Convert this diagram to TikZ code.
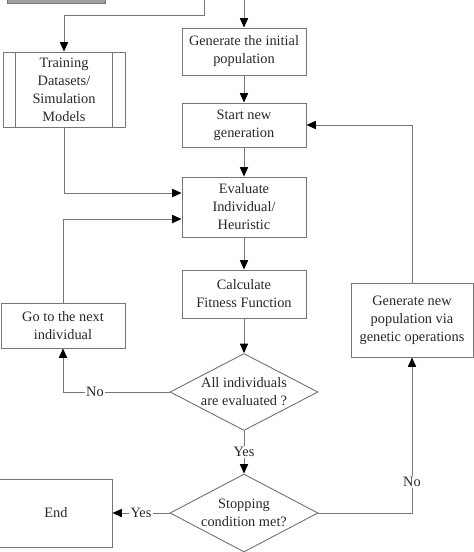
\documentclass[tikz,border=0pt]{standalone}
\usepackage{xcolor}
\usepackage{tikz}
\usepackage{fontspec}
\setmainfont{Liberation Serif}
\usetikzlibrary{arrows.meta,shapes.geometric}
\definecolor{linegray}{RGB}{118,118,118}
\definecolor{textgray}{RGB}{40,40,40}

\begin{document}
\begin{tikzpicture}[x=0.03cm,y=-0.03cm,
        box/.style={draw=linegray, line width=0.8pt, align=center, text=textgray,
            inner sep=0pt, font=\fontsize{12.25}{15.3}\selectfont},
        decision/.style={box, diamond, aspect=1.92},
        flow/.style={draw=linegray, line width=0.8pt, -{Triangle[width=7pt,length=8pt,color=black]}},
        lbl/.style={fill=white, text=textgray, inner sep=1pt, font=\fontsize{12.25}{15.3}\selectfont}]
        \clip (0,0) rectangle (474,552);
        \fill[white] (0,0) rectangle (474,552);

        % boxes
        \node[box, fill=linegray!70, minimum width=2.94cm, minimum height=1.26cm] (prev) at (56,-18) {};
        \node[box, minimum width=3.72cm, minimum height=1.41cm] (gen) at (244,51.5) {Generate the initial\\population};
        \node[box, minimum width=3.72cm, minimum height=1.32cm] (startgen) at (244,125) {Start new\\generation};
        \node[box, minimum width=3.66cm, minimum height=2.25cm] (train) at (64,89.5) {Training\\Datasets/\\Simulation\\Models};
        \draw[linegray, line width=0.8pt] ([xshift=0.39cm]train.north west) -- ([xshift=0.39cm]train.south west);
        \draw[linegray, line width=0.8pt] ([xshift=-0.39cm]train.north east) -- ([xshift=-0.39cm]train.south east);
        \node[box, minimum width=3.72cm, minimum height=1.8cm] (eval) at (244,207) {Evaluate\\Individual/\\Heuristic};
        \node[box, minimum width=3.72cm, minimum height=1.44cm] (calc) at (244,294) {Calculate\\Fitness Function};
        \node[box, minimum width=3.72cm, minimum height=1.35cm] (next) at (63,325.5) {Go to the next\\individual};
        \node[box, minimum width=3.66cm, minimum height=2.22cm] (newpop) at (412,320) {Generate new\\population via\\genetic operations};
        \node[decision, minimum width=4.44cm, minimum height=2.31cm] (alld) at (244,392) {All individuals\\are evaluated ?};
        \node[decision, minimum width=4.44cm, minimum height=2.34cm] (stopd) at (244,513) {Stopping\\condition met?};
        \node[box, minimum width=3.66cm, minimum height=2.04cm] (endb) at (51,513) {\hspace*{0.3cm}End};

        % incoming lines from above
        \coordinate (src1) at (204,-10);
        \coordinate (src2) at (244,-10);

        % connectors
        \draw[flow] (src1) -- ++(0,25) -| (train.north);
        \draw[flow] (src2) -- (gen.north);
        \draw[flow] (gen) -- (startgen);
        \draw[flow] (startgen) -- (eval);
        \draw[flow] (train.south) |- ([yshift=0.42cm]eval.west);
        \draw[flow] (next.north) |- ([yshift=-0.36cm]eval.west);
        \draw[flow] (eval) -- (calc);
        \draw[flow] (calc) -- (alld.north);
        \draw[flow] (alld.west) -| node[lbl, pos=0.35] {No} (next.south);
        \draw[flow] (alld.south) -- node[lbl] {Yes} (stopd.north);
        \draw[flow] (stopd.west) -- node[lbl] {Yes} (endb.east);
        \draw[flow] (stopd.east) -| node[lbl, pos=0.6] {No} (newpop.south);
        \draw[flow] (newpop.north) |- (startgen.east);
    \end{tikzpicture}
\end{document}
